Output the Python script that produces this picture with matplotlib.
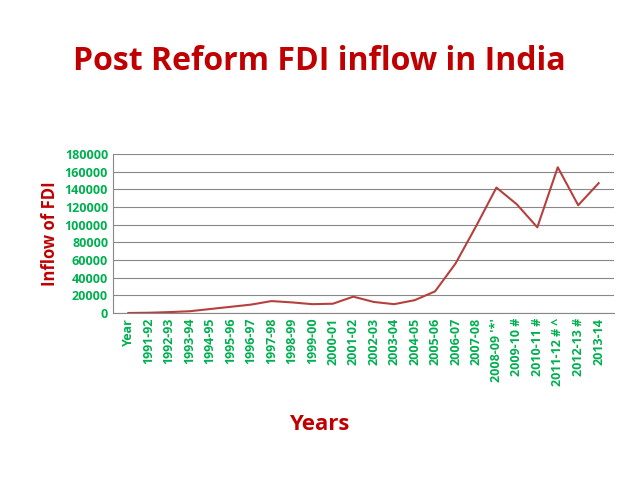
import matplotlib
matplotlib.use("Agg")
import matplotlib.pyplot as plt

categories = ["Year","1991-92","1992-93","1993-94","1994-95","1995-96","1996-97","1997-98",
              "1998-99","1999-00","2000-01","2001-02","2002-03","2003-04","2004-05","2005-06",
              "2006-07","2007-08","2008-09 '*'","2009-10 #","2010-11 #","2011-12 # ^","2012-13 #","2013-14"]
values = [0,300,1000,2000,4500,7000,9500,13500,12000,10000,10500,18500,12500,10000,14500,24500,
          56000,98000,142000,123000,97000,165000,122000,147000]
yticks = list(range(0,180001,20000))

plt.rcParams['font.family'] = ['Open Sans','DejaVu Sans']
fig = plt.figure(figsize=(6.38,4.79), dpi=100)
ax = fig.add_axes([113/638, 1-313/479, (614-113)/638, (313-154)/479])
x = list(range(len(categories)))
ax.plot(x, values, color='#B5413E', lw=1.5)
ax.set_xlim(-0.75, len(categories)-0.25)
ax.set_ylim(0,180000)
ax.set_yticks(yticks)
ax.set_yticklabels([str(v) for v in yticks], color='#00B050', fontsize=9, fontweight='bold')
ax.set_xticks(x)
ax.set_xticklabels(categories, rotation=90, color='#00B050', fontsize=9, fontweight='bold')
ax.tick_params(length=0)
ax.grid(axis='y', color='#888888', lw=0.8)
for s in ['top','right']:
    ax.spines[s].set_visible(False)
ax.spines['left'].set_color('#888888')
ax.spines['bottom'].set_color('#888888')
ax.set_axisbelow(True)
ax.set_ylabel('Inflow of FDI', color='#C00000', fontsize=12, fontweight='bold', labelpad=4)
fig.text(0.5, 1-62/479, 'Post Reform FDI inflow in India', ha='center', va='center',
         color='#C00000', fontsize=23, fontweight='bold')
fig.text(0.5, 1-425/479, 'Years', ha='center', va='center', color='#C00000', fontsize=16, fontweight='bold')
fig.savefig('out.png', dpi=100)
